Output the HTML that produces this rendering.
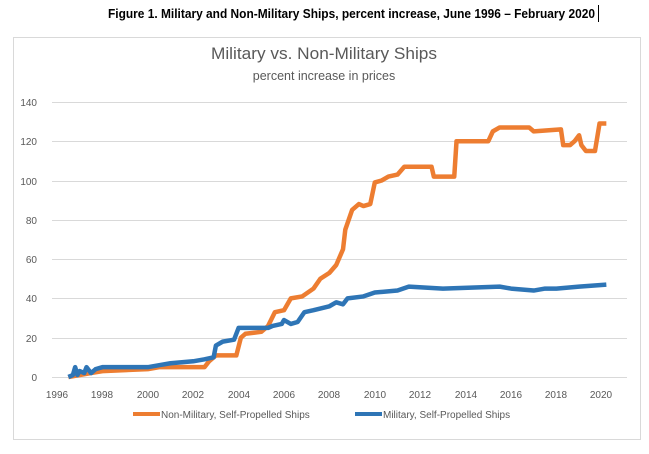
<!DOCTYPE html>
<html><head><style>
body{margin:0;background:#fff;width:649px;height:449px;overflow:hidden;font-family:"Liberation Sans",sans-serif}
</style></head><body>
<svg width="649" height="449" xmlns="http://www.w3.org/2000/svg" font-family="Liberation Sans, sans-serif">
<text x="108" y="18" font-size="13" font-weight="bold" fill="#000" textLength="487" lengthAdjust="spacingAndGlyphs">Figure 1. Military and Non-Military Ships, percent increase, June 1996 – February 2020</text>
<line x1="598.5" y1="5" x2="598.5" y2="22" stroke="#000"/>
<rect x="13.5" y="37.5" width="627" height="402" fill="#fff" stroke="#d9d9d9"/>
<text x="324" y="59" text-anchor="middle" font-size="17" fill="#595959" textLength="226" lengthAdjust="spacingAndGlyphs">Military vs. Non-Military Ships</text>
<text x="324" y="80" text-anchor="middle" font-size="12.5" fill="#595959">percent increase in prices</text>
<g stroke="#d9d9d9" stroke-width="1">
<line x1="52" x2="627" y1="102.5" y2="102.5"/><line x1="52" x2="627" y1="141.5" y2="141.5"/>
<line x1="52" x2="627" y1="181.5" y2="181.5"/><line x1="52" x2="627" y1="220.5" y2="220.5"/>
<line x1="52" x2="627" y1="259.5" y2="259.5"/><line x1="52" x2="627" y1="298.5" y2="298.5"/>
<line x1="52" x2="627" y1="338.5" y2="338.5"/><line x1="52" x2="627" y1="377.5" y2="377.5"/>
</g>
<g font-size="10" fill="#595959" text-anchor="end">
<text x="37" y="106">140</text><text x="37" y="145">120</text><text x="37" y="185">100</text>
<text x="37" y="224">80</text><text x="37" y="263">60</text><text x="37" y="302">40</text>
<text x="37" y="342">20</text><text x="37" y="381">0</text>
</g>
<g font-size="10" fill="#595959" text-anchor="middle">
<text x="57" y="398">1996</text><text x="102" y="398">1998</text><text x="148" y="398">2000</text>
<text x="193" y="398">2002</text><text x="239" y="398">2004</text><text x="284" y="398">2006</text>
<text x="329" y="398">2008</text><text x="375" y="398">2010</text><text x="420" y="398">2012</text>
<text x="466" y="398">2014</text><text x="511" y="398">2016</text><text x="556" y="398">2018</text>
<text x="601" y="398">2020</text>
</g>
<g transform="translate(57,377) scale(22.7,-1.965)" fill="none" stroke-linejoin="round">
<polyline vector-effect="non-scaling-stroke" stroke="#ed7d31" stroke-width="4.5" points="0.5,0 1,1 1.5,2 2,3 4,4 4.5,5 5,5 6.5,5 6.7,8 7,11 7.9,11 8.1,20 8.3,22 9,23 9.3,26 9.6,33 10,34 10.3,40 10.8,41 11.3,45 11.6,50 12,53 12.3,57 12.6,65 12.7,75 13,85 13.3,88 13.5,87 13.8,88 14,99 14.3,100 14.6,102 15,103 15.3,107 16.5,107 16.6,102 17.5,102 17.6,120 19,120 19.2,125 19.5,127 20.8,127 21,125 22.2,126 22.3,118 22.6,118 22.8,120 23,123 23.1,118 23.3,115 23.7,115 23.9,129 24.2,129"/>
<polyline vector-effect="non-scaling-stroke" stroke="#2e75b6" stroke-width="4.5" points="0.5,0 0.7,1 0.8,5 0.9,1 1,3 1.2,2 1.3,5 1.5,2 1.7,4 2,5 4,5 4.5,6 5,7 6,8 6.5,9 6.9,10 7,16 7.3,18 7.8,19 8,25 9.3,25 9.5,26 9.9,27 10,29 10.3,27 10.6,28 10.9,33 11.3,34 12,36 12.3,38 12.6,37 12.8,40 13.5,41 14,43 15,44 15.5,46 17,45 19.5,46 20,45 21,44 21.5,45 22,45 23,46 24.2,47"/>
</g>
<line x1="133" y1="414" x2="160" y2="414" stroke="#ed7d31" stroke-width="4"/>
<text x="161" y="418" font-size="10" fill="#595959">Non-Military, Self-Propelled Ships</text>
<line x1="355" y1="414" x2="382" y2="414" stroke="#2e75b6" stroke-width="4"/>
<text x="383" y="418" font-size="10" fill="#595959">Military, Self-Propelled Ships</text>
</svg>
</body></html>
